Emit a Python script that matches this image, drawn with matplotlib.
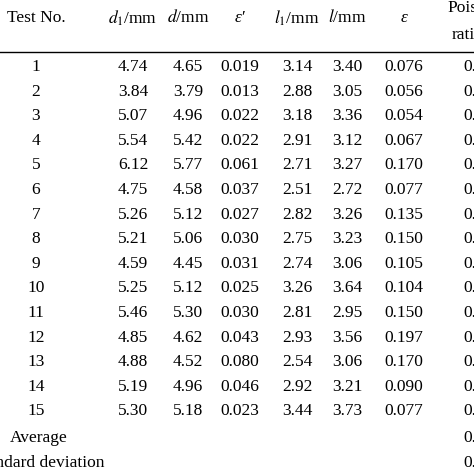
import matplotlib
matplotlib.use('Agg')
import matplotlib.pyplot as plt

plt.rcParams['font.family'] = ['Liberation Serif', 'DejaVu Serif']
plt.rcParams['mathtext.fontset'] = 'stix'

test_no = [str(i) for i in range(1, 16)]
d1 = ["4.74", "3.84", "5.07", "5.54", "6.12", "4.75", "5.26", "5.21", "4.59", "5.25", "5.46", "4.85", "4.88", "5.19", "5.30"]
d = ["4.65", "3.79", "4.96", "5.42", "5.77", "4.58", "5.12", "5.06", "4.45", "5.12", "5.30", "4.62", "4.52", "4.96", "5.18"]
eps_p = ["0.019", "0.013", "0.022", "0.022", "0.061", "0.037", "0.027", "0.030", "0.031", "0.025", "0.030", "0.043", "0.080", "0.046", "0.023"]
l1 = ["3.14", "2.88", "3.18", "2.91", "2.71", "2.51", "2.82", "2.75", "2.74", "3.26", "2.81", "2.93", "2.54", "2.92", "3.44"]
l = ["3.40", "3.05", "3.36", "3.12", "3.27", "2.72", "3.26", "3.23", "3.06", "3.64", "2.95", "3.56", "3.06", "3.21", "3.73"]
eps = ["0.076", "0.056", "0.054", "0.067", "0.170", "0.077", "0.135", "0.150", "0.105", "0.104", "0.150", "0.197", "0.170", "0.090", "0.077"]
headers = ["Test No.", r"$d_1$/mm", r"$d$/mm", "ε′", r"$l_1$/mm", r"$l$/mm", "ε"]
col_x = [36, 133, 188, 240, 297, 347, 404]

W = H = 474
fig = plt.figure(figsize=(4.74, 4.74), dpi=100)
fs = 12.5

def put(x, y, s, ha='center', style='normal'):
    fig.text(x / W, 1 - y / H, s, ha=ha, va='center', fontsize=fs, style=style)

for x, h in zip(col_x, headers):
    put(x, 18, h, style='italic' if h.startswith('ε') else 'normal')
put(447, 8, "Poisson", ha='left')
put(452, 35, "ratio", ha='left')
fig.add_artist(plt.Line2D([0, 1], [1 - 52 / H] * 2, color='black', lw=1.0))

cols = [test_no, d1, d, eps_p, l1, l, eps]
for i in range(15):
    y = 67 + i * 24.6
    for x, c in zip(col_x, cols):
        put(x, y, c[i])
    put(463, y, "0.", ha='left')

put(39, 438, "Average")
put(39, 463, "Standard deviation")
put(463, 438, "0.", ha='left')
put(463, 463, "0.", ha='left')

fig.savefig("out.png", dpi=100)
